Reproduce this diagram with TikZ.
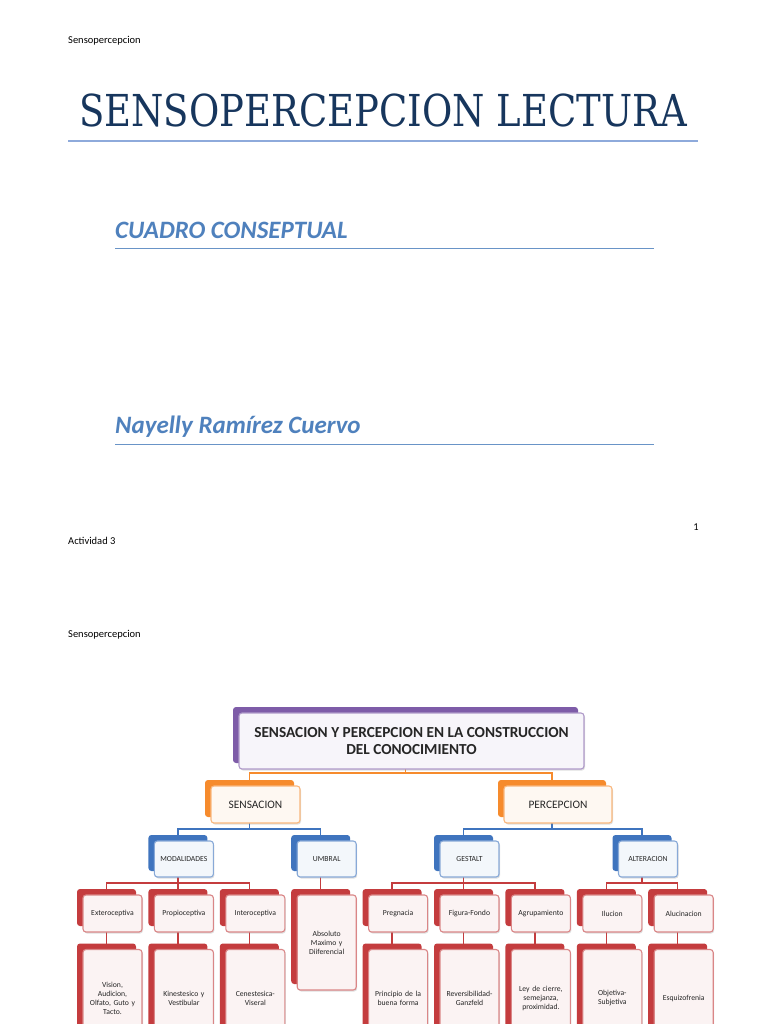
\documentclass[tikz,border=0pt]{standalone}
\usepackage{fontspec}
\setmainfont{Carlito}
\newfontfamily\titlefont[FakeStretch=0.84]{DejaVu Serif}
\usetikzlibrary{calc,backgrounds,shadows}

\definecolor{titleblue}{HTML}{17365D}
\definecolor{headblue}{HTML}{4F81BD}
\definecolor{rulelight}{HTML}{8EAADB}
\definecolor{cpurple}{HTML}{7E5CA8}
\definecolor{corange}{HTML}{F68B2D}
\definecolor{cblue}{HTML}{3F74BE}
\definecolor{cred}{HTML}{C43C3E}

\tikzset{
  card/.style={rectangle,rounded corners=3pt,inner sep=1pt,align=center,text=black!85},
  lvtop/.style={card,minimum width=345pt,minimum height=56pt,font=\bfseries\fontsize{15.3}{17}\selectfont},
  lvtwo/.style={card,minimum height=37pt,font=\fontsize{11.4}{13}\selectfont},
  lvsmall/.style={card,minimum width=59pt,minimum height=37pt,text width=55pt,font=\fontsize{7.7}{9}\selectfont},
  lvtall/.style={lvsmall,minimum height=97pt},
  link/.style={line width=1.5pt},
  pagetext/.style={anchor=west,inner sep=0pt,font=\fontsize{10.5}{12}\selectfont},
}

% back card, then front card with its text
\newcommand{\conbox}[5]{%
  \node[#2,fill=#3] (#1-b) at ($(#4)+(-6,-6)$) {};
  \node[#2,draw=#3!62!white,line width=1.1pt,fill=#3!6!white,
        drop shadow={shadow xshift=1pt,shadow yshift=-1.5pt,opacity=.25}] (#1) at (#4) {#5};
}

\begin{document}
\begin{tikzpicture}[x=1pt,y=-1pt]
    \useasboundingbox (0,0) rectangle (768,1024);
    \clip (0,0) rectangle (768,1024);

    % page texts
    \node[pagetext] (head1) at (68,41) {Sensopercepcion};
    \node[anchor=base,inner sep=0pt,font=\titlefont\fontsize{44}{48}\selectfont,text=titleblue] (title) at (383,126.5) {SENSOPERCEPCION LECTURA};
    \draw[rulelight,line width=1.2pt] (68,141) -- (698,141);
    \node[anchor=base west,inner sep=0pt,font=\bfseries\itshape\fontsize{25}{28}\selectfont,text=headblue] (subtitle) at (115,238.3) {CUADRO CONSEPTUAL};
    \draw[headblue!85,line width=0.9pt] (115,248) -- (654,248);
    \node[anchor=base west,inner sep=0pt,font=\bfseries\itshape\fontsize{25}{28}\selectfont,text=headblue] (author) at (115,433.5) {Nayelly Ramírez Cuervo};
    \draw[headblue!85,line width=0.9pt] (115,444) -- (654,444);
    \node[inner sep=0pt,font=\fontsize{10.5}{12}\selectfont] (pagenum) at (696,527) {1};
    \node[pagetext] (foot) at (68,541) {Actividad 3};
    \node[pagetext] (head2) at (68,635) {Sensopercepcion};

    % level 1 and 2
    \conbox{top}{lvtop}{cpurple}{411.5,741}{SENSACION Y PERCEPCION EN LA CONSTRUCCION\\DEL CONOCIMIENTO}
    \conbox{sens}{lvtwo,minimum width=89pt}{corange}{255.5,804.5}{SENSACION}
    \conbox{perc}{lvtwo,minimum width=108pt}{corange}{558,804.5}{PERCEPCION}

    % level 3
    \conbox{moda}{lvsmall,minimum height=36pt}{cblue}{183.9,859}{MODALIDADES}
    \conbox{umbr}{lvsmall,minimum height=36pt}{cblue}{326.7,859}{UMBRAL}
    \conbox{gest}{lvsmall,minimum height=36pt}{cblue}{469.5,859}{GESTALT}
    \conbox{alte}{lvsmall,minimum height=36pt}{cblue}{648,859}{ALTERACION}

    % level 4
    \conbox{exte}{lvsmall}{cred}{112.5,913.5}{Exteroceptiva}
    \conbox{prop}{lvsmall}{cred}{183.9,913.5}{Propioceptiva}
    \conbox{inte}{lvsmall}{cred}{255.3,913.5}{Interoceptiva}
    \conbox{umbd}{lvtall,minimum height=95pt}{cred}{326.7,942.5}{Absoluto\\Maximo y\\Diiferencial}
    \conbox{preg}{lvsmall}{cred}{398.1,913.5}{Pregnacia}
    \conbox{figu}{lvsmall}{cred}{469.5,913.5}{Figura-Fondo}
    \conbox{agru}{lvsmall}{cred}{540.9,913.5}{Agrupamiento}
    \conbox{ilu}{lvsmall}{cred}{612.3,913.5}{Ilucion}
    \conbox{aluc}{lvsmall}{cred}{683.7,913.5}{Alucinacion}

    % level 5
    \conbox{exte-d}{lvtall}{cred}{112.5,998}{Vision,\\Audicion,\\Olfato, Guto y\\Tacto.}
    \conbox{prop-d}{lvtall}{cred}{183.9,998}{Kinestesico y\\Vestibular}
    \conbox{inte-d}{lvtall}{cred}{255.3,998}{Cenestesica-\\Viseral}
    \conbox{preg-d}{lvtall}{cred}{398.1,998}{Principio de la\\buena forma}
    \conbox{figu-d}{lvtall}{cred}{469.5,998}{Reversibilidad-\\Ganzfeld}
    \conbox{agru-d}{lvtall}{cred}{540.9,998}{Ley de cierre,\\semejanza,\\proximidad.}
    \conbox{ilu-d}{lvtall}{cred}{612.3,998}{Objetiva-\\Subjetiva}
    \conbox{aluc-d}{lvtall}{cred}{683.7,998}{Esquizofrenia}

    % connectors
    \coordinate (bus1) at (0,773);
    \coordinate (bus2) at (0,829);
    \coordinate (bus3) at (0,883);
    \begin{scope}[on background layer]
        \fill[white] (0,0) rectangle (768,1024);
        \draw[link,corange] (top-b.center) -- (top-b.center |- bus1) -| (sens-b.center);
        \draw[link,corange] (top-b.center |- bus1) -| (perc-b.center);
        \draw[link,cblue] (sens-b.center) -- (sens-b.center |- bus2) -| (moda-b.center);
        \draw[link,cblue] (sens-b.center |- bus2) -| (umbr-b.center);
        \draw[link,cblue] (perc-b.center) -- (perc-b.center |- bus2) -| (gest-b.center);
        \draw[link,cblue] (perc-b.center |- bus2) -| (alte-b.center);
        \draw[link,cred] (moda-b.center) -- (moda-b.center |- bus3) -| (exte-b.center);
        \draw[link,cred] (moda-b.center |- bus3) -| (inte-b.center);
        \draw[link,cred] (moda-b.center) -- (prop-b.center);
        \draw[link,cred] (umbr-b.center) -- (umbd-b.center);
        \draw[link,cred] (gest-b.center) -- (gest-b.center |- bus3) -| (preg-b.center);
        \draw[link,cred] (gest-b.center |- bus3) -| (agru-b.center);
        \draw[link,cred] (gest-b.center) -- (figu-b.center);
        \draw[link,cred] (alte-b.center) -- (alte-b.center |- bus3) -| (ilu-b.center);
        \draw[link,cred] (alte-b.center |- bus3) -| (aluc-b.center);
        \foreach \n in {exte,prop,inte,preg,figu,agru,ilu,aluc}
            \draw[link,cred] (\n-b.center) -- (\n-d-b.center);
    \end{scope}
\end{tikzpicture}
\end{document}
